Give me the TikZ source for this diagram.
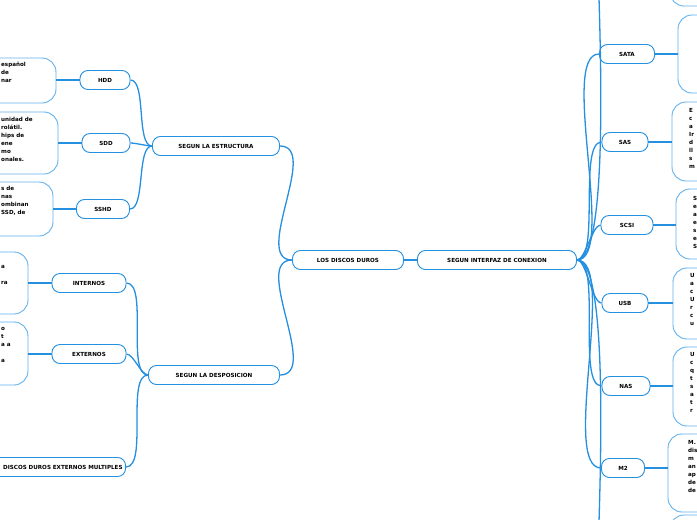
\documentclass[tikz,border=0pt]{standalone}
\usepackage{fontspec}
\setmainfont{DejaVu Sans}
\definecolor{ln}{HTML}{2690E0}
\definecolor{bx}{HTML}{62B2EE}
\begin{document}
\begin{tikzpicture}[x=1pt,y=-1pt,
 topic/.style={draw=ln,line width=0.9pt,rounded corners=8pt,fill=white,minimum height=19pt,inner sep=0pt,font=\fontsize{5.6}{6}\selectfont\bfseries},
 detail/.style={draw=bx,line width=0.9pt,rounded corners=14pt,fill=white},
 dtext/.style={align=left,anchor=north west,font=\fontsize{5.6}{8}\selectfont\bfseries,inner sep=0pt},
 conn/.style={draw=ln,line width=1.3pt}]
\useasboundingbox (0,0) rectangle (697,520);
\clip (0,0) rectangle (697,520);
\fill[white] (0,0) rectangle (697,520);
% main nodes
\node[topic,minimum width=111pt] (root) at (348,260) {LOS DISCOS DUROS};
\node[topic,minimum width=159pt] (inter) at (497,260) {SEGUN INTERFAZ DE CONEXION};
\node[topic,minimum width=127pt] (estr) at (216,146) {SEGUN LA ESTRUCTURA};
\node[topic,minimum width=131pt] (desp) at (214,375) {SEGUN LA DESPOSICION};
\node[topic,minimum width=50pt] (hdd) at (105,80) {HDD};
\node[topic,minimum width=48pt] (sdd) at (106,143) {SDD};
\node[topic,minimum width=53pt] (sshd) at (103,209) {SSHD};
\node[topic,minimum width=74pt] (int) at (89,283) {INTERNOS};
\node[topic,minimum width=74pt] (ext) at (89,354) {EXTERNOS};
\node[topic,minimum width=150pt,anchor=east,align=right,text width=144pt] (mul) at (126,467) {DISCOS DUROS EXTERNOS MULTIPLES};
\node[topic,minimum width=55pt] (sata) at (627,54) {SATA};
\node[topic,minimum width=46pt] (sas) at (625,142) {SAS};
\node[topic,minimum width=52pt] (scsi) at (627,225) {SCSI};
\node[topic,minimum width=46pt] (usb) at (625,303) {USB};
\node[topic,minimum width=48pt] (nas) at (626,386) {NAS};
\node[topic,minimum width=43pt] (m2) at (623,468) {M2};
\coordinate (topc) at (598,-40);
\coordinate (botc) at (598,560);
% detail boxes
\draw[detail] (-40,58) rectangle (56,103); \coordinate (dhdd) at (56,80);
\draw[detail] (-40,112) rectangle (58,174); \coordinate (dsdd) at (58,143);
\draw[detail] (-40,182) rectangle (53,236); \coordinate (dsshd) at (53,209);
\draw[detail] (-40,252) rectangle (28,314); \coordinate (dint) at (28,283);
\draw[detail] (-40,322) rectangle (28,385); \coordinate (dext) at (28,354);
\draw[detail] (678,15) rectangle (740,93); \coordinate (dsata) at (678,54);
\draw[detail] (672,102) rectangle (740,181); \coordinate (dsas) at (672,142);
\draw[detail] (676,189) rectangle (740,259); \coordinate (dscsi) at (676,225);
\draw[detail] (673,268) rectangle (740,339); \coordinate (dusb) at (673,303);
\draw[detail] (673,347) rectangle (740,426); \coordinate (dnas) at (673,386);
\draw[detail] (668,434) rectangle (740,512); \coordinate (dm2) at (668,468);
\draw[detail] (670,-40) rectangle (740,6);
\draw[detail] (670,515) rectangle (740,560);
% detail texts
\node[dtext] at (1,62) {español\\de\\nar};
\node[dtext] at (1,117) {unidad de\\rolátil.\\hips de\\ene\\mo\\onales.};
\node[dtext] at (1,186) {s de\\nas\\ombinan\\SSD, de};
\node[dtext] at (1,265) {a\\\\ra};
\node[dtext] at (1,327) {o\\t\\a a\\\\a};
\node[dtext] at (689,108) {E\\c\\a\\Ir\\d\\ll\\s\\m};
\node[dtext] at (693,196) {S\\e\\a\\e\\s\\e\\S};
\node[dtext] at (690,273) {U\\a\\c\\U\\r\\c\\u};
\node[dtext] at (690,352) {U\\c\\q\\t\\s\\a\\t\\r};
\node[dtext] at (688,440) {M.\\dis\\m\\an\\ap\\de\\de};
% connectors
\draw[conn] (root.west) to[out=180,in=0,looseness=0.9] (estr.east);
\draw[conn] (root.west) to[out=180,in=0,looseness=0.9] (desp.east);
\draw[conn] (root.east) -- (inter.west);
\foreach \c in {hdd,sdd,sshd}{\draw[conn] (estr.west) to[out=180,in=0,looseness=0.6] (\c.east);}
\foreach \c in {int,ext,mul}{\draw[conn] (desp.west) to[out=180,in=0,looseness=0.6] (\c.east);}
\foreach \c in {sata,sas,scsi,usb,nas,m2}{\draw[conn] (inter.east) to[out=0,in=180,looseness=0.5] (\c.west);}
\draw[conn] (inter.east) to[out=0,in=270,looseness=0.3] (topc);
\draw[conn] (inter.east) to[out=0,in=90,looseness=0.3] (botc);
\draw[conn] (hdd.west) -- (dhdd);
\draw[conn] (sdd.west) -- (dsdd);
\draw[conn] (sshd.west) -- (dsshd);
\draw[conn] (int.west) -- (dint);
\draw[conn] (ext.west) -- (dext);
\draw[conn] (sata.east) -- (dsata);
\draw[conn] (sas.east) -- (dsas);
\draw[conn] (scsi.east) -- (dscsi);
\draw[conn] (usb.east) -- (dusb);
\draw[conn] (nas.east) -- (dnas);
\draw[conn] (m2.east) -- (dm2);
\end{tikzpicture}
\end{document}
